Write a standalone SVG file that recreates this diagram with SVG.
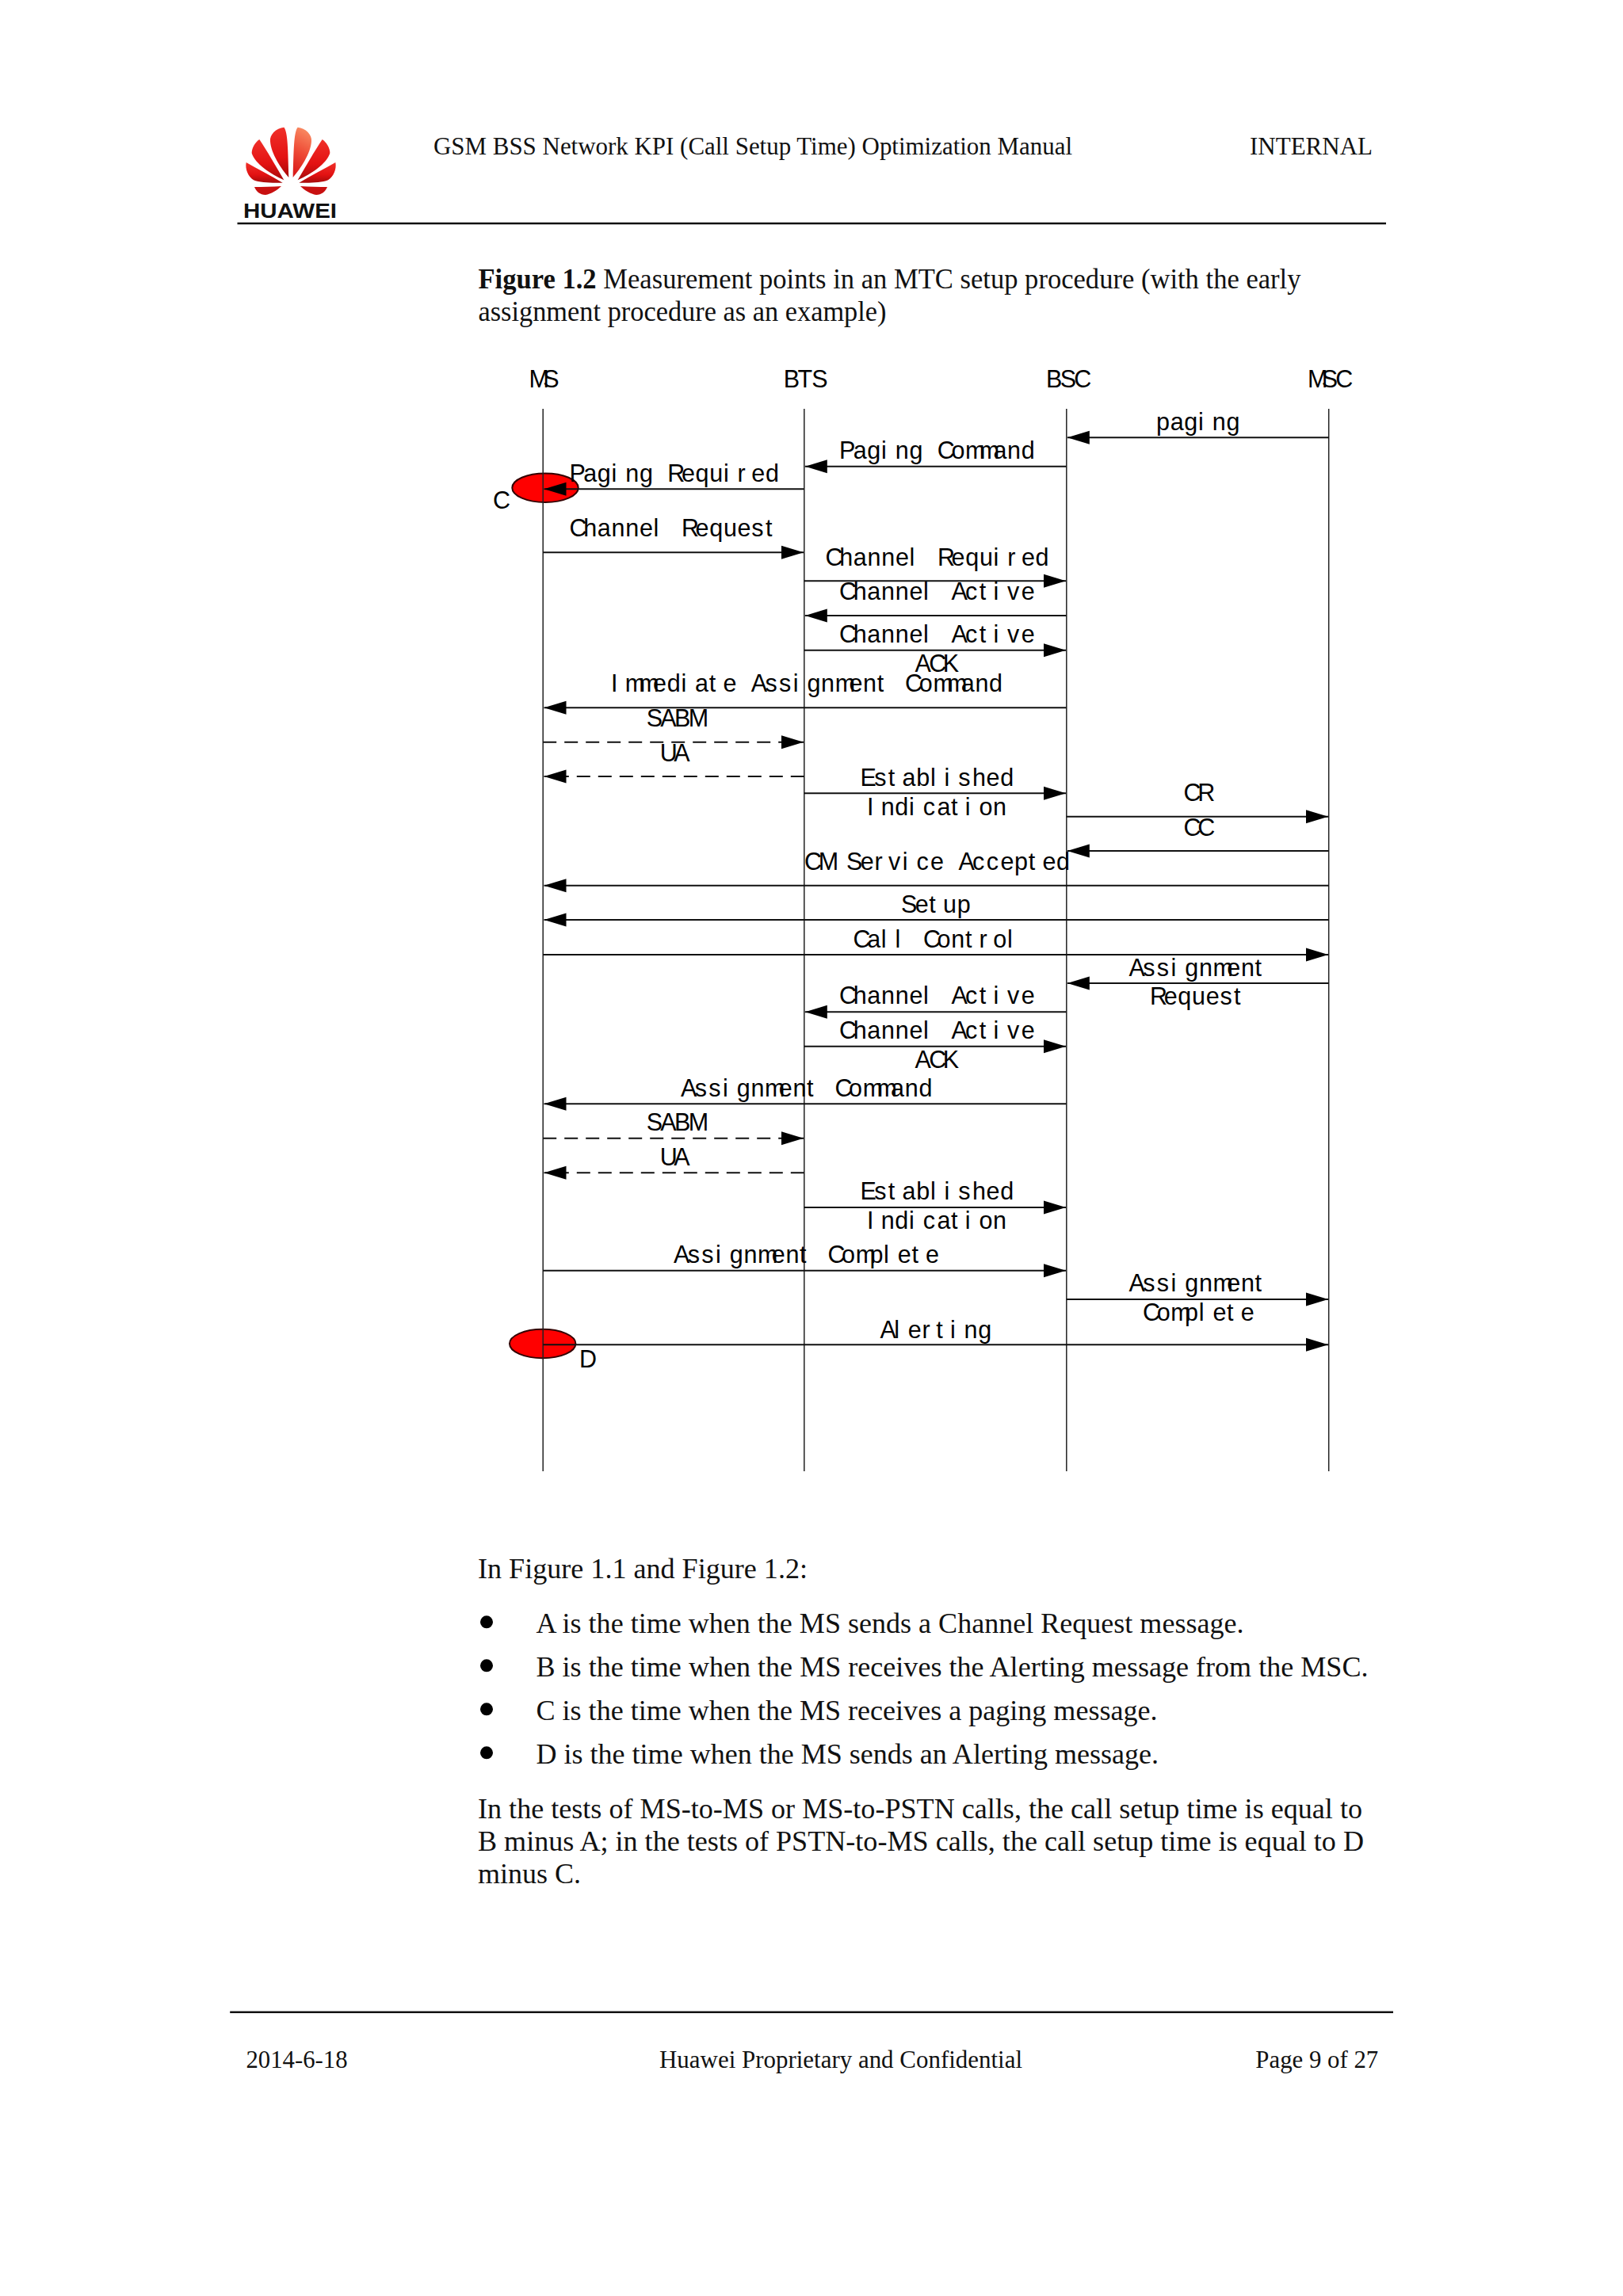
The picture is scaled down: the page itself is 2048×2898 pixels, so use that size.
<svg xmlns="http://www.w3.org/2000/svg" width="2048" height="2898" viewBox="0 0 2048 2898">
<style>
.t{font-family:"Liberation Serif","Times New Roman",serif;fill:#111}
.h{font-size:31px}
.b{font-size:36px}
.m{font-family:"Liberation Sans",Arial,sans-serif;font-size:30.5px;fill:#000}
.life{stroke:#222;stroke-width:1.5;fill:none}
.msg{stroke:#111;stroke-width:1.9;fill:none;marker-end:url(#ah)}
.dash{stroke-dasharray:17 10}
.mark{fill:#f00;stroke:#300;stroke-width:2}
.rule{stroke:#111;stroke-width:2.4}
</style>
<defs>
<marker id="ah" markerUnits="userSpaceOnUse" markerWidth="29" markerHeight="18" refX="28" refY="9" orient="auto"><path d="M0,0.5 L28,9 L0,17.5 z" fill="#000"/></marker>
<linearGradient id="pet" x1="0" y1="0" x2="0" y2="1"><stop offset="0" stop-color="#f0302a"/><stop offset=".6" stop-color="#e31212"/><stop offset="1" stop-color="#a50a0a"/></linearGradient>
<linearGradient id="petl" x1="0.5" y1="0" x2="0.3" y2="1"><stop offset="0" stop-color="#f98a62"/><stop offset=".5" stop-color="#ee4a35"/><stop offset="1" stop-color="#d81818"/></linearGradient>
</defs>
<rect width="2048" height="2898" fill="#fff"/>

<g id="header">
<g id="logo">
<g transform="translate(295,150) scale(.33333)">
<path fill="url(#pet)" d="M208 222C205 120 205 50 190 32C160 35 135 60 138 85C140 130 180 190 208 222z"/>
<path fill="url(#petl)" d="M224 222C227 120 227 50 242 32C272 35 297 60 294 85C292 130 252 190 224 222z"/>
<path fill="url(#pet)" d="M190 232C160 180 125 120 97 78C80 90 68 110 68 130C80 170 140 210 190 232z"/>
<path fill="url(#pet)" d="M242 232C272 180 307 120 335 78C352 90 364 110 364 130C352 170 292 210 242 232z"/>
<path fill="url(#pet)" d="M185 242C140 215 90 190 47 165C42 190 55 220 75 232C100 243 150 243 185 242z"/>
<path fill="url(#pet)" d="M247 242C292 215 342 190 385 165C390 190 377 220 357 232C332 243 282 243 247 242z"/>
<path fill="#c81010" d="M180 255C145 257 110 258 78 258C85 275 100 288 120 288C140 285 165 270 180 255z"/>
<path fill="#c81010" d="M252 255C287 257 322 258 354 258C347 275 332 288 312 288C292 285 267 270 252 255z"/>
</g>
<text x="307" y="274.6" font-family="Liberation Sans,Arial,sans-serif" font-weight="700" font-size="25" textLength="118" lengthAdjust="spacingAndGlyphs" fill="#111">HUAWEI</text>
</g>
<text class="t h" x="547" y="194.8" textLength="806" lengthAdjust="spacingAndGlyphs">GSM BSS Network KPI (Call Setup Time) Optimization Manual</text>
<text class="t h" x="1577" y="194.8" textLength="155" lengthAdjust="spacingAndGlyphs">INTERNAL</text>
<line class="rule" x1="299.5" y1="282" x2="1749" y2="282"/>
</g>

<g id="caption">
<text class="t b" x="603.5" y="364.3" textLength="1038" lengthAdjust="spacingAndGlyphs"><tspan font-weight="700">Figure 1.2</tspan> Measurement points in an MTC setup procedure (with the early</text>
<text class="t b" x="603.5" y="405" textLength="515" lengthAdjust="spacingAndGlyphs">assignment procedure as an example)</text>
</g>

<g id="marker-C"><ellipse class="mark" cx="688" cy="615.7" rx="41.7" ry="18.3"/><text class="m" x="622" y="642.3">C</text></g>
<g id="marker-D"><ellipse class="mark" cx="684.7" cy="1696" rx="41.7" ry="18.3"/><text class="m" x="731" y="1726">D</text></g>

<g id="node-MS"><line class="life" x1="685.2" y1="516" x2="685.2" y2="1857"/><text class="m" transform="translate(667.5,489.3)" x="0 17.67">MS</text></g>
<g id="node-BTS"><line class="life" x1="1014.8" y1="516" x2="1014.8" y2="1857"/><text class="m" transform="translate(988.8,489.3)" x="0 17.67 35.34">BTS</text></g>
<g id="node-BSC"><line class="life" x1="1345.8" y1="516" x2="1345.8" y2="1857"/><text class="m" transform="translate(1320,489.3)" x="0 17.67 35.34">BSC</text></g>
<g id="node-MSC"><line class="life" x1="1676.7" y1="516" x2="1676.7" y2="1857"/><text class="m" transform="translate(1650,489.3)" x="0 17.67 35.34">MSC</text></g>

<g id="connectors">
<line class="msg" x1="1676.7" y1="552.3" x2="1346.8" y2="552.3"/>
<line class="msg" x1="1345.8" y1="588.7" x2="1015.8" y2="588.7"/>
<line class="msg" x1="1014.8" y1="617.3" x2="686.5" y2="617.3"/>
<line class="msg" x1="685.2" y1="697.3" x2="1014" y2="697.3"/>
<line class="msg" x1="1014.8" y1="733.3" x2="1345" y2="733.3"/>
<line class="msg" x1="1345.8" y1="777" x2="1015.8" y2="777"/>
<line class="msg" x1="1014.8" y1="820.7" x2="1345" y2="820.7"/>
<line class="msg" x1="1345.8" y1="893.3" x2="686.5" y2="893.3"/>
<line class="msg dash" x1="685.2" y1="936.7" x2="1014" y2="936.7"/>
<line class="msg dash" x1="1014.8" y1="980" x2="686.5" y2="980"/>
<line class="msg" x1="1014.8" y1="1001.3" x2="1345" y2="1001.3"/>
<line class="msg" x1="1345.8" y1="1030.7" x2="1676" y2="1030.7"/>
<line class="msg" x1="1676.7" y1="1074" x2="1346.8" y2="1074"/>
<line class="msg" x1="1676.7" y1="1117.7" x2="686.5" y2="1117.7"/>
<line class="msg" x1="1676.7" y1="1161" x2="686.5" y2="1161"/>
<line class="msg" x1="685.2" y1="1205" x2="1676" y2="1205"/>
<line class="msg" x1="1676.7" y1="1241" x2="1346.8" y2="1241"/>
<line class="msg" x1="1345.8" y1="1277.3" x2="1015.8" y2="1277.3"/>
<line class="msg" x1="1014.8" y1="1320.7" x2="1345" y2="1320.7"/>
<line class="msg" x1="1345.8" y1="1393.3" x2="686.5" y2="1393.3"/>
<line class="msg dash" x1="685.2" y1="1436.7" x2="1014" y2="1436.7"/>
<line class="msg dash" x1="1014.8" y1="1480.3" x2="686.5" y2="1480.3"/>
<line class="msg" x1="1014.8" y1="1524" x2="1345" y2="1524"/>
<line class="msg" x1="685.2" y1="1603.7" x2="1345" y2="1603.7"/>
<line class="msg" x1="1345.8" y1="1640" x2="1676" y2="1640"/>
<line class="msg" x1="685.2" y1="1697.3" x2="1676" y2="1697.3"/>
</g>

<g id="message-labels">
<text class="m" transform="translate(1459,542.7)" x="0 17.67 35.34 53 70.7 88.4">paging</text>
<text class="m" transform="translate(1059,579)" x="0 17.67 35.34 53 70.7 88.4 106 123.7 141.4 159 176.7 194.4 212 229.7">Paging Command</text>
<text class="m" transform="translate(718.5,607.7)" x="0 17.67 35.34 53 70.7 88.4 106 123.7 141.4 159 176.7 194.4 212 229.7 247.4">Paging Required</text>
<text class="m" transform="translate(718.5,677)" x="0 17.67 35.34 53 70.7 88.4 106 123.7 141.4 159 176.7 194.4 212 229.7 247.4">Channel Request</text>
<text class="m" transform="translate(1041.5,714.3)" x="0 17.67 35.34 53 70.7 88.4 106 123.7 141.4 159 176.7 194.4 212 229.7 247.4 265">Channel Required</text>
<text class="m" transform="translate(1059,757)" x="0 17.67 35.34 53 70.7 88.4 106 123.7 141.4 159 176.7 194.4 212 229.7">Channel Active</text>
<text class="m" transform="translate(1059,811.3)" x="0 17.67 35.34 53 70.7 88.4 106 123.7 141.4 159 176.7 194.4 212 229.7">Channel Active</text>
<text class="m" transform="translate(1154.5,848.3)" x="0 17.67 35.34">ACK</text>
<text class="m" transform="translate(771,873.3)" x="0 17.67 35.34 53 70.7 88.4 106 123.7 141.4 159 176.7 194.4 212 229.7 247.4 265 282.7 300.4 318 335.7 353.4 371 388.7 406.4 424 441.7 459.4 477">Immediate Assignment Command</text>
<text class="m" transform="translate(815.7,917.3)" x="0 17.67 35.34 53">SABM</text>
<text class="m" transform="translate(832.7,960.7)" x="0 17.67">UA</text>
<text class="m" transform="translate(1085.5,992.3)" x="0 17.67 35.34 53 70.7 88.4 106 123.7 141.4 159 176.7">Established</text>
<text class="m" transform="translate(1094,1029.3)" x="0 17.67 35.34 53 70.7 88.4 106 123.7 141.4 159">Indication</text>
<text class="m" transform="translate(1493.5,1011)" x="0 17.67">CR</text>
<text class="m" transform="translate(1493.5,1054.7)" x="0 17.67">CC</text>
<text class="m" transform="translate(1015,1098.3)" x="0 17.67 35.34 53 70.7 88.4 106 123.7 141.4 159 176.7 194.4 212 229.7 247.4 265 282.7 300.4 318">CM Service Accepted</text>
<text class="m" transform="translate(1137,1151.7)" x="0 17.67 35.34 53 70.7">Setup</text>
<text class="m" transform="translate(1076.5,1195.7)" x="0 17.67 35.34 53 70.7 88.4 106 123.7 141.4 159 176.7 194.4">Call Control</text>
<text class="m" transform="translate(1424.5,1232)" x="0 17.67 35.34 53 70.7 88.4 106 123.7 141.4 159">Assignment</text>
<text class="m" transform="translate(1451,1268.3)" x="0 17.67 35.34 53 70.7 88.4 106">Request</text>
<text class="m" transform="translate(1059,1267.3)" x="0 17.67 35.34 53 70.7 88.4 106 123.7 141.4 159 176.7 194.4 212 229.7">Channel Active</text>
<text class="m" transform="translate(1059,1310.7)" x="0 17.67 35.34 53 70.7 88.4 106 123.7 141.4 159 176.7 194.4 212 229.7">Channel Active</text>
<text class="m" transform="translate(1154.5,1348.3)" x="0 17.67 35.34">ACK</text>
<text class="m" transform="translate(859,1383.7)" x="0 17.67 35.34 53 70.7 88.4 106 123.7 141.4 159 176.7 194.4 212 229.7 247.4 265 282.7 300.4">Assignment Command</text>
<text class="m" transform="translate(815.7,1427.3)" x="0 17.67 35.34 53">SABM</text>
<text class="m" transform="translate(832.7,1470.7)" x="0 17.67">UA</text>
<text class="m" transform="translate(1085.5,1514)" x="0 17.67 35.34 53 70.7 88.4 106 123.7 141.4 159 176.7">Established</text>
<text class="m" transform="translate(1094,1551)" x="0 17.67 35.34 53 70.7 88.4 106 123.7 141.4 159">Indication</text>
<text class="m" transform="translate(850,1594.3)" x="0 17.67 35.34 53 70.7 88.4 106 123.7 141.4 159 176.7 194.4 212 229.7 247.4 265 282.7 300.4 318">Assignment Complete</text>
<text class="m" transform="translate(1424.5,1630.3)" x="0 17.67 35.34 53 70.7 88.4 106 123.7 141.4 159">Assignment</text>
<text class="m" transform="translate(1442,1666.7)" x="0 17.67 35.34 53 70.7 88.4 106 123.7">Complete</text>
<text class="m" transform="translate(1110.5,1688.7)" x="0 17.67 35.34 53 70.7 88.4 106 123.7">Alerting</text>
</g>

<g id="body">
<text class="t b" x="603" y="1991.7" textLength="416" lengthAdjust="spacingAndGlyphs">In Figure 1.1 and Figure 1.2:</text>
<ellipse cx="614" cy="2047.3" rx="8" ry="8" fill="#000"/>
<text class="t b" x="676.5" y="2060.7" textLength="893" lengthAdjust="spacingAndGlyphs">A is the time when the MS sends a Channel Request message.</text>
<ellipse cx="614" cy="2102.3" rx="8" ry="8" fill="#000"/>
<text class="t b" x="676.5" y="2115.7" textLength="1050" lengthAdjust="spacingAndGlyphs">B is the time when the MS receives the Alerting message from the MSC.</text>
<ellipse cx="614" cy="2157.3" rx="8" ry="8" fill="#000"/>
<text class="t b" x="676.5" y="2170.7" textLength="784" lengthAdjust="spacingAndGlyphs">C is the time when the MS receives a paging message.</text>
<ellipse cx="614" cy="2212.3" rx="8" ry="8" fill="#000"/>
<text class="t b" x="676.5" y="2225.7" textLength="785.5" lengthAdjust="spacingAndGlyphs">D is the time when the MS sends an Alerting message.</text>
<text class="t b" x="603" y="2295" textLength="1116" lengthAdjust="spacingAndGlyphs">In the tests of MS-to-MS or MS-to-PSTN calls, the call setup time is equal to</text>
<text class="t b" x="603" y="2335.7" textLength="1118" lengthAdjust="spacingAndGlyphs">B minus A; in the tests of PSTN-to-MS calls, the call setup time is equal to D</text>
<text class="t b" x="603" y="2376.7" textLength="130" lengthAdjust="spacingAndGlyphs">minus C.</text>
</g>

<g id="footer">
<line class="rule" x1="290.2" y1="2539.7" x2="1758" y2="2539.7"/>
<text class="t h" x="310.5" y="2610" textLength="128" lengthAdjust="spacingAndGlyphs">2014-6-18</text>
<text class="t h" x="832" y="2610" textLength="458" lengthAdjust="spacingAndGlyphs">Huawei Proprietary and Confidential</text>
<text class="t h" x="1584.3" y="2610" textLength="155" lengthAdjust="spacingAndGlyphs">Page 9 of 27</text>
</g>
</svg>
